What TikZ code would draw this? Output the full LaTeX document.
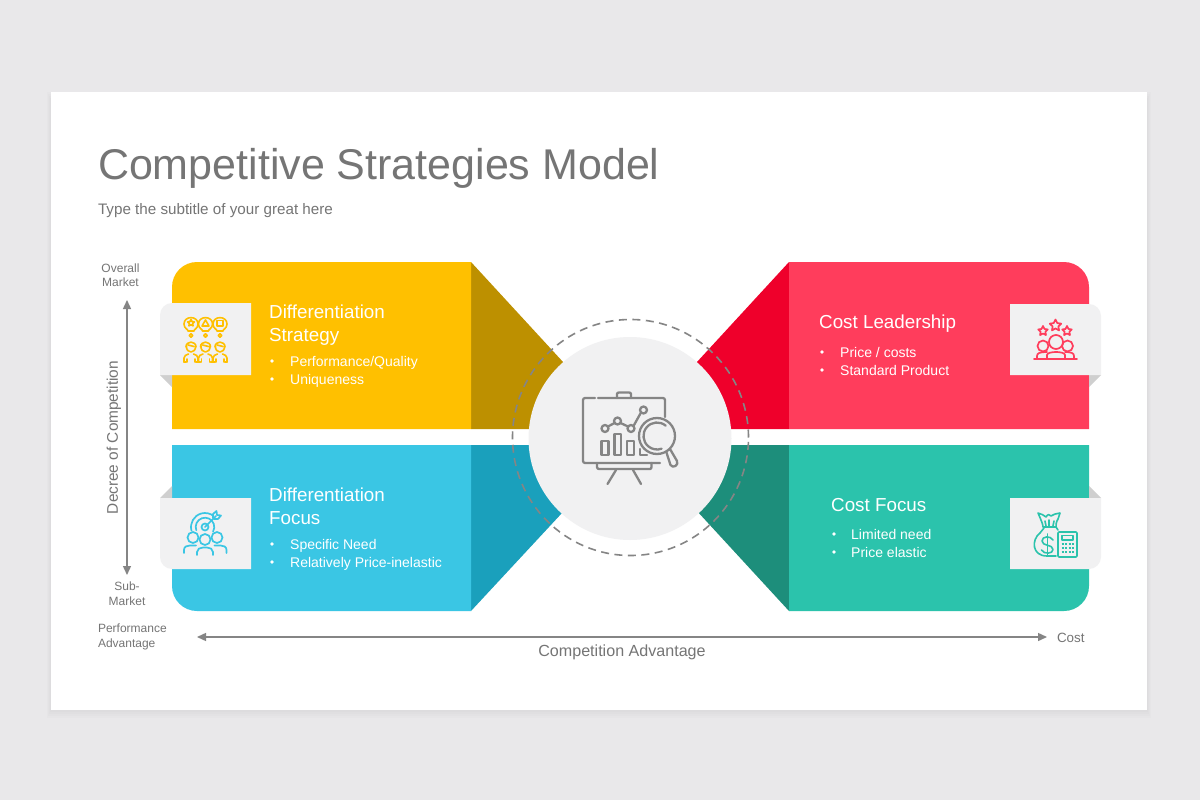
\documentclass[tikz,border=0pt]{standalone}
\usepackage{fontspec}
\setmainfont{Liberation Sans}
\usetikzlibrary{arrows.meta}
\definecolor{pagebg}{HTML}{E9E8EA}
\definecolor{txt}{HTML}{757575}
\definecolor{axis}{HTML}{858585}
\definecolor{tab}{HTML}{F1F1F2}
\definecolor{foldc}{HTML}{CFCFCF}
\definecolor{yel}{HTML}{FFC000}\definecolor{yeld}{HTML}{BD9000}
\definecolor{blu}{HTML}{3AC6E4}\definecolor{blud}{HTML}{1AA0BC}
\definecolor{redd}{HTML}{FF3D5C}\definecolor{redk}{HTML}{EF002B}
\definecolor{grn}{HTML}{2BC3AC}\definecolor{grnd}{HTML}{1D8E7B}
\newcommand{\fsz}[1]{\fontsize{#1}{#1}\selectfont}
\tikzset{
  x=1pt,y=-1pt,
  lab/.style={inner sep=0pt,outer sep=0pt,text=txt},
  base/.style={lab,anchor=base west},
  title/.style={base,font=\fsz{43}},
  sub/.style={base,font=\fsz{15.2}},
  axlab/.style={lab,font=\fsz{12},align=center},
  head/.style={inner sep=0pt,anchor=base west,text=white,font=\fsz{18.8}},
  bul/.style={inner sep=0pt,anchor=base west,text=white,font=\fsz{14}},
  axisline/.style={draw=axis,line width=1.4pt,{Triangle[length=9pt,width=8pt]}-{Triangle[length=9pt,width=8pt]}},
  ico/.style={line width=1.6pt,line cap=round,line join=round},
}
\newcommand{\bulletdot}[2]{\fill[white] (#1,#2) circle[radius=1.9pt];}
\newcommand{\bstar}[3]{\draw[shift={(#1,#2)}] (-90:#3) -- (-54:#3*0.5) -- (-18:#3) -- (18:#3*0.5) -- (54:#3) -- (90:#3*0.5) -- (126:#3) -- (162:#3*0.5) -- (198:#3) -- (234:#3*0.5) -- cycle;}
\newcommand{\ypers}[1]{%
  \begin{scope}[shift={(#1,0)}]
  \draw (0,335.5) circle[radius=1.7pt];
  \draw (-5,347) .. controls (-5,340.5) and (5,340.5) .. (5,347);
  \draw (-4.5,346) .. controls (-5,354) and (5,354) .. (4.5,346);
  \draw (-3,345) -- (3,346.5);
  \draw (-7,362) -- (-7,358) .. controls (-7,355.5) and (-5,355) .. (-2.5,354) (7,362) -- (7,358) .. controls (7,355.5) and (5,355) .. (2.5,354);
  \draw (-7,362) -- (-5,362) (5,362) -- (7,362) (-4,359) -- (-4,362) (4,359) -- (4,362);
  \end{scope}}
\newcommand{\ybulb}[1]{%
  \draw[shift={(#1,324)}] (-3,7) .. controls (-3,5) and (-7,4.5) .. (-7,0) .. controls (-7,-8.5) and (7,-8.5) .. (7,0) .. controls (7,4.5) and (3,5) .. (3,7) -- cycle;}
\begin{document}
\begin{tikzpicture}
\useasboundingbox (0,0) rectangle (1200,800);
\fill[pagebg] (0,0) rectangle (1200,800);
% card and its soft shadow
\foreach \d in {8,6,4,2}{
  \fill[black,opacity=0.01] (51-\d/2,100-\d) rectangle (1147+\d/2,710+\d);
}
\fill[white] (51,92) rectangle (1147,710);
\node[title] (ttl) at (98,179) {Competitive Strategies Model};
\node[sub] (subt) at (98,214) {Type the subtitle of your great here};
% wedges
\fill[yeld] (471,262) -- (575,375) -- (575,429) -- (471,429) -- cycle;
\fill[blud] (471,611) -- (575,499) -- (575,445) -- (471,445) -- cycle;
\fill[redk] (789,262) -- (685,375) -- (685,429) -- (789,429) -- cycle;
\fill[grnd] (789,611) -- (685,498) -- (685,445) -- (789,445) -- cycle;
% panels
\fill[yel] (471,262) -- (197,262) .. controls (183.2,262) and (172,273.2) .. (172,287) -- (172,429) -- (471,429) -- cycle;
\fill[blu] (471,611) -- (197,611) .. controls (183.2,611) and (172,599.8) .. (172,586) -- (172,445) -- (471,445) -- cycle;
\fill[redd] (789,262) -- (1064,262) .. controls (1077.8,262) and (1089,273.2) .. (1089,287) -- (1089,429) -- (789,429) -- cycle;
\fill[grn] (789,611) -- (1064,611) .. controls (1077.8,611) and (1089,599.8) .. (1089,586) -- (1089,445) -- (789,445) -- cycle;
% dashed ring and centre disc
\draw[axis,line width=1.6pt,dash pattern=on 8pt off 5.5pt] (630.5,437.5) circle[radius=118pt];
\node[circle,fill=tab,minimum size=203pt,inner sep=0pt] (hub) at (630,438.5) {};
% folds
\fill[foldc] (160,375) -- (172,375) -- (172,387) -- cycle;
\fill[foldc] (160,498) -- (172,498) -- (172,486) -- cycle;
\fill[foldc] (1101,375) -- (1089,375) -- (1089,387) -- cycle;
\fill[foldc] (1101,498) -- (1089,498) -- (1089,486) -- cycle;
% tabs
\fill[tab] (251,303) -- (172,303) .. controls (165.4,303) and (160,308.4) .. (160,315) -- (160,375) -- (251,375) -- cycle;
\fill[tab] (251,569) -- (172,569) .. controls (165.4,569) and (160,563.6) .. (160,557) -- (160,498) -- (251,498) -- cycle;
\fill[tab] (1010,304) -- (1089,304) .. controls (1095.6,304) and (1101,309.4) .. (1101,316) -- (1101,375) -- (1010,375) -- cycle;
\fill[tab] (1010,569) -- (1089,569) .. controls (1095.6,569) and (1101,563.6) .. (1101,557) -- (1101,498) -- (1010,498) -- cycle;
% yellow text
\node[head] (a1) at (269,318) {Differentiation};
\node[head] (a2) at (269,341) {Strategy};
\bulletdot{272}{361}\node[bul] (a3) at (290,366) {Performance/Quality};
\bulletdot{272}{379}\node[bul] (a4) at (290,384) {Uniqueness};
% blue text
\node[head] (b1) at (269,501) {Differentiation};
\node[head] (b2) at (269,524) {Focus};
\bulletdot{272}{544}\node[bul] (b3) at (290,549) {Specific Need};
\bulletdot{272}{562}\node[bul] (b4) at (290,567) {Relatively Price-inelastic};
% red text
\node[head] (c1) at (819,328) {Cost Leadership};
\bulletdot{822}{352}\node[bul] (c3) at (840,357) {Price / costs};
\bulletdot{822}{370}\node[bul] (c4) at (840,375) {Standard Product};
% green text
\node[head] (d1) at (831,511) {Cost Focus};
\bulletdot{834}{534}\node[bul] (d3) at (851,539) {Limited need};
\bulletdot{834}{552}\node[bul] (d4) at (851,557) {Price elastic};
% axes
\coordinate (vt) at (127,300);\coordinate (vb) at (127,575);
\coordinate (hl) at (197,637);\coordinate (hr) at (1047,637);
\draw[axisline] (vt) -- (vb);
\draw[axisline] (hl) -- (hr);
\node[axlab] (e1) at (120.5,275.5) {Overall\\[2.4pt]Market};
\node[axlab] (e2) at (127,593.5) {Sub-\\[2.6pt]Market};
\node[axlab,align=left,anchor=west] (e3) at (98,637) {Performance\\[3.2pt]Advantage};
\node[axlab,anchor=west,font=\fsz{13.4}] (e4) at (1057,638) {Cost};
\node[lab,font=\fsz{16.1}] (e5) at (622,652) {Competition Advantage};
\node[lab,font=\fsz{15.4},rotate=90] (e6) at (114,437.5) {Decree of Competition};
% icon: people with ideas
\begin{scope}[ico,draw=yel]
  \ybulb{191}\ybulb{205.5}\ybulb{220}
  \bstar{191}{323}{3.5}
  \draw (205.5,320) -- (209,326) -- (202,326) -- cycle;
  \draw (217,320.5) rectangle (223,326);
  \ypers{191}\ypers{205.5}\ypers{220}
\end{scope}
% icon: target and people
\begin{scope}[ico,draw=blu,line width=1.7pt]
  \draw (205,527) circle[radius=3.5pt];
  \draw (205,527) ++(200:9.3pt) arc[start angle=200,end angle=-30,radius=9.3pt];
  \draw (205,527) ++(195:14pt) arc[start angle=195,end angle=52,radius=14pt];
  \draw (205,527) -- (216,516);
  \draw (213,518) -- (213,514) -- (216.5,511) -- (217,515) -- (221,515.5) -- (218,519) -- (214,519);
  \draw[fill=tab] (193,537.5) circle[radius=5.5pt] (217,537.5) circle[radius=5.5pt];
  \draw[fill=tab] (205,539.5) circle[radius=5.5pt];
  \draw (184,553) -- (184,550) .. controls (184,546.5) and (187,545.5) .. (190,545.5) -- (196,545.5);
  \draw (226.5,553) -- (226.5,550) .. controls (226.5,546.5) and (223.5,545.5) .. (220.5,545.5) -- (214.5,545.5);
  \draw (197,555) -- (197,552) .. controls (197,549) and (200,547.5) .. (203,547.5) -- (207,547.5) .. controls (210,547.5) and (213,549) .. (213,552) -- (213,555);
\end{scope}
% icon: crowd and stars
\begin{scope}[ico,draw=redd,line width=1.7pt]
  \bstar{1043}{331}{5}\bstar{1055.5}{325.5}{6}\bstar{1067}{331}{5}
  \draw (1056,342) circle[radius=7pt];
  \draw (1043,346) circle[radius=5.5pt] (1067.5,346) circle[radius=5.5pt];
  \draw (1034,359) -- (1077,359);
  \draw (1037,359) -- (1037,356) .. controls (1037,353) and (1040,352) .. (1047,352);
  \draw (1074,359) -- (1074,356) .. controls (1074,353) and (1071,352) .. (1065,352);
  \draw (1047,359) -- (1047,355) .. controls (1047,351) and (1065,351) .. (1065,355) -- (1065,359);
\end{scope}
% icon: money bag and calculator
\begin{scope}[ico,draw=grn,line width=1.6pt]
  \draw (1038,513) .. controls (1041,514) and (1044,515) .. (1046,517) .. controls (1047.5,514) and (1050,514) .. (1051,516) .. controls (1053,514) and (1056,514) .. (1060,513) -- (1058,519) .. controls (1056,522) and (1056,525) .. (1056,527) -- (1043,527) .. controls (1043,525) and (1042,522) .. (1038,513) -- cycle;
  \draw (1049,520) -- (1049,526) (1045,521) -- (1046,526) (1054,521) -- (1053,526);
  \draw (1040,533) .. controls (1031,540) and (1032,556) .. (1047,556) -- (1056,556);
  \draw (1040,533) -- (1044,528) (1058,530) -- (1056,527);
  \draw (1053,540) .. controls (1050.5,535.5) and (1042,536) .. (1042,541) .. controls (1042,546.5) and (1053,544) .. (1053,549.5) .. controls (1053,554) and (1044,554.5) .. (1041.5,550);
  \draw (1047.5,534) -- (1047.5,556);
  \draw[rounded corners=1pt,fill=tab] (1058,532) rectangle (1077,557);
  \draw (1062,535.5) rectangle (1073,540);
  \foreach \yy in {544,548,552}{
    \draw[dash pattern=on 2pt off 1.5pt,line cap=butt,line width=2pt] (1061.5,\yy) -- (1074,\yy);
  }
\end{scope}
% icon: presentation board with magnifier
\begin{scope}[ico,draw=axis,line width=2.3pt]
  \draw (595,398) -- (585,398) .. controls (584,398) and (583,399) .. (583,400) -- (583,461) .. controls (583,462) and (584,463) .. (585,463) -- (660,463);
  \draw (598,398) -- (663,398) .. controls (664,398) and (665,399) .. (665,400) -- (665,417);
  \draw (617,398) -- (617,394) .. controls (617,393) and (618,392.5) .. (619,392.5) -- (629,392.5) .. controls (630,392.5) and (631,393) .. (631,394) -- (631,398);
  \draw (597,463) -- (597,467) .. controls (597,468.5) and (598,469) .. (599,469) -- (650,469) .. controls (651,469) and (651.5,468) .. (651.5,467) -- (651.5,463);
  \draw (616,470) -- (607.5,484) (633,470) -- (641,484);
  \draw (605,428.5) circle[radius=3.5pt] (617.5,421) circle[radius=3.5pt] (631,428.5) circle[radius=3.5pt] (643.5,410) circle[radius=3.5pt];
  \draw (608,426.5) -- (614.5,423) (620.5,423) -- (628,426.5) (633.5,426) -- (641,412.5);
  \draw (601.5,441) rectangle (608.5,455);
  \draw (614.5,434) rectangle (621,455);
  \draw (627,441) rectangle (634,455);
  \draw (640,449) -- (640,455) -- (647,455);
  \draw (666,451) -- (670,449) -- (677,461) .. controls (679,465) and (673,469) .. (670.5,465) -- cycle;
  \draw[fill=tab] (657,436) circle[radius=18pt];
  \draw (657,436) ++(50:13.5pt) arc[start angle=50,end angle=290,radius=13.5pt];
\end{scope}
\end{tikzpicture}
\end{document}
